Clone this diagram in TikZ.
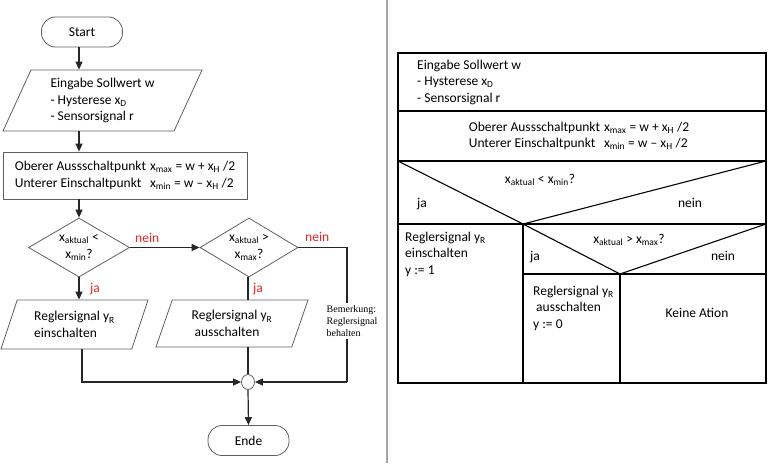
\documentclass[tikz,border=0pt]{standalone}
\usepackage{fontspec}
\setmainfont{Carlito}
\newfontfamily\notefont{Liberation Serif}
\usepackage{tikz}
\usetikzlibrary{arrows.meta, shapes.geometric, calc}
\usepackage{xcolor}
\definecolor{shapegray}{RGB}{95,95,95}
\definecolor{answerred}{RGB}{235,35,35}
\definecolor{sepgray}{RGB}{165,165,165}

\newcommand{\idx}[1]{\textsubscript{#1}}

\tikzset{
  base/.style={font=\fontsize{13.5}{16.5}\selectfont},
  terminal/.style={base, draw=shapegray, line width=0.8pt, rounded corners=14pt,
    minimum width=81pt, minimum height=30pt, inner sep=0pt},
  io/.style={base, draw=shapegray, line width=0.8pt, trapezium,
    trapezium left angle=58, trapezium right angle=122,
    trapezium stretches body, inner sep=0pt, align=left},
  process/.style={base, draw=shapegray, line width=0.8pt, inner sep=0pt},
  decision/.style={base, draw=shapegray, line width=0.8pt, diamond, aspect=1.7,
    inner sep=0pt, align=center},
  joint/.style={draw=shapegray, line width=0.8pt, ellipse, minimum width=13pt,
    minimum height=15pt, inner sep=0pt},
  remark/.style={font=\notefont\fontsize{10}{12}\selectfont, fill=white,
    inner sep=2pt, align=left},
  flow/.style={line width=1.2pt, black!85},
  arr/.style={-{Triangle[length=8pt,width=7pt]}},
  answer/.style={base, text=answerred, inner sep=0pt},
  nsbox/.style={line width=1.1pt, black},
  nstext/.style={base, align=left, inner sep=0pt},
}

\begin{document}
\begin{tikzpicture}[x=1pt, y=-1pt]

  \useasboundingbox (0,0) rectangle (768,463);

  % separator between both diagrams
  \draw[sepgray, line width=1.2pt] (387,0) -- (387,463);

  % ---------------- flowchart ----------------
  \node[terminal] (start) at (82,32) {Start};
  \node[io, minimum width=199pt, minimum height=61pt] (input) at (102.5,100.5)
    {Eingabe Sollwert w\\- Hysterese x\idx{D}\\- Sensorsignal r};
  \node[process, minimum width=244pt, minimum height=47pt] (calc) at (125,175.5)
    {\begin{tabular}{@{}l@{\hspace{4pt}}l@{}}
      Oberer Aussschaltpunkt & x\idx{max} = w + x\idx{H} /2\\
      Unterer Einschaltpunkt & x\idx{min} = w – x\idx{H} /2
    \end{tabular}};
  \node[decision, minimum width=101pt, minimum height=59pt] (dec1) at (79,247.5)
    {x\idx{aktual} <\\x\idx{min}?};
  \node[decision, minimum width=98pt, minimum height=59pt] (dec2) at (249,247.5)
    {x\idx{aktual} >\\x\idx{max}?};
  \node[io, minimum width=147pt, minimum height=49pt] (on) at (74.5,324.5)
    {Reglersignal y\idx{R}\\einschalten};
  \node[io, minimum width=152pt, minimum height=47pt] (off) at (232,323.5)
    {Reglersignal y\idx{R}\\\hspace*{3pt}ausschalten};
  \node[joint] (join) at (248,382) {};
  \node[terminal] (ende) at (248.5,440.5) {Ende};

  % connectors
  \draw[flow, arr] (start.south -| dec1) -- (dec1 |- input.north);
  \draw[flow, arr] (dec1 |- input.south) -- (dec1 |- calc.north);
  \draw[flow, arr] (dec1 |- calc.south) -- (dec1.north);
  \draw[flow, arr] (dec1.east) -- (dec2.west);
  \draw[flow, arr] (dec1.south) -- (dec1 |- on.north);
  \draw[flow] (join |- dec2.south) -- (join |- off.north);
  \draw[flow, arr] (82,349) |- (join.west);
  \draw[flow] (join |- off.south) -- (join.north);
  \draw[flow] (dec2.east) -| (347,382) coordinate (back);
  \draw[flow, arr] (back) -- (join.east);
  \draw[flow, arr] (join.south) -- (ende.north);

  \node[remark] (note) at (352,321) {Bemerkung:\\Reglersignal\\behalten};

  % branch labels
  \node[answer, anchor=base west] (nein1) at (135,242) {nein};
  \node[answer, anchor=base west] (nein2) at (305,241) {nein};
  \node[answer, anchor=base west] (ja1) at (90,292) {ja};
  \node[answer, anchor=base west] (ja2) at (253,292) {ja};

  % ---------------- structogram ----------------
  \draw[nsbox] (398,53) rectangle (766,383);
  \draw[nsbox] (398,111) -- (766,111);
  \draw[nsbox] (398,161) -- (766,161);
  \draw[nsbox] (398,161) -- (523,224) -- (766,161);
  \draw[nsbox] (398,224) -- (766,224);
  \draw[nsbox] (523,224) -- (523,383);
  \draw[nsbox] (523,224) -- (620,274) -- (766,224);
  \draw[nsbox] (523,274) -- (766,274);
  \draw[nsbox] (620,274) -- (620,383);

  \node[nstext, anchor=base west] (nsin) at (417,102)
    {Eingabe Sollwert w\\- Hysterese x\idx{D}\\- Sensorsignal r};
  \node[nstext] (nscalc) at (579,136)
    {\begin{tabular}{@{}l@{\hspace{4pt}}l@{}}
      Oberer Aussschaltpunkt & x\idx{max} = w + x\idx{H} /2\\
      Unterer Einschaltpunkt & x\idx{min} = w – x\idx{H} /2
    \end{tabular}};
  \node[nstext] (nsq1) at (540,180) {x\idx{aktual} < x\idx{min}?};
  \node[nstext, anchor=base west] (nsja1) at (417,207) {ja};
  \node[nstext, anchor=base] (nsnein1) at (690,207) {nein};
  \node[nstext, anchor=base west] (nson) at (405,274)
    {Reglersignal y\idx{R}\\einschalten\\y := 1};
  \node[nstext] (nsq2) at (629,240) {x\idx{aktual} > x\idx{max}?};
  \node[nstext, anchor=base west] (nsja2) at (530,260) {ja};
  \node[nstext, anchor=base] (nsnein2) at (723,260) {nein};
  \node[nstext, anchor=base west] (nsoff) at (533,328)
    {Reglersignal y\idx{R}\\\hspace*{3pt}ausschalten\\y := 0};
  \node[nstext] (nsnone) at (697,313) {Keine Ation};

\end{tikzpicture}
\end{document}
